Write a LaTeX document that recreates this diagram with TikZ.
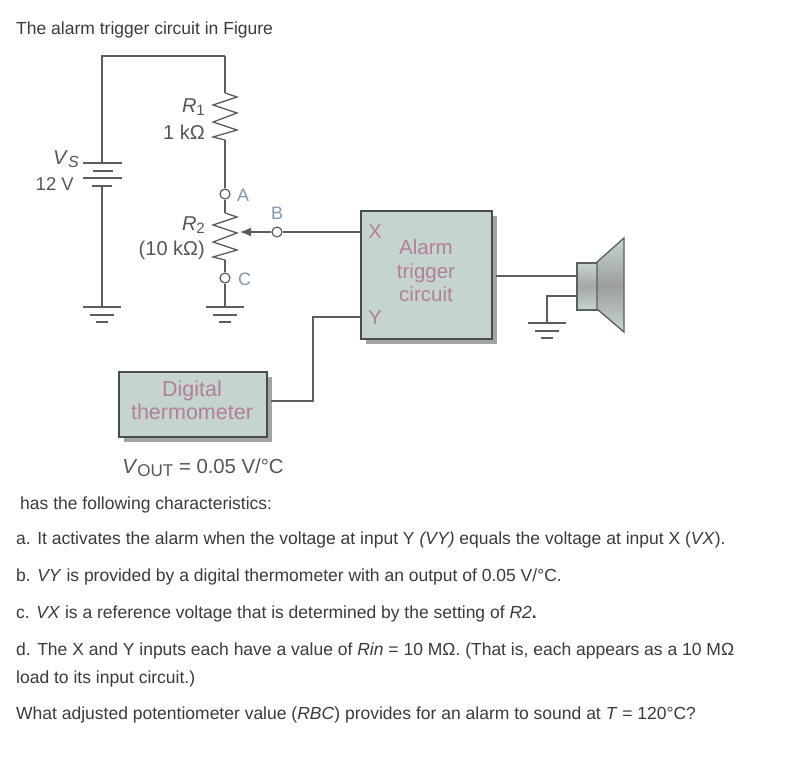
\documentclass[tikz,border=0pt]{standalone}
\usepackage{fontspec}
\setmainfont{Liberation Sans}
\usetikzlibrary{shadows,arrows.meta}
\definecolor{wirecol}{HTML}{5A5F5C}
\definecolor{boxcol}{HTML}{C6D4D1}
\definecolor{boxtext}{HTML}{B27F96}
\definecolor{labcol}{HTML}{555555}
\definecolor{bluelab}{HTML}{7F9AAE}
\definecolor{bodytext}{HTML}{3A3A3A}
\tikzset{
    x=1pt,y=-1pt,
    wire/.style={draw=wirecol,line width=1.3pt},
    terminal/.style={circle,draw=wirecol,line width=1.2pt,fill=white,inner sep=0pt,minimum size=10pt},
    block/.style={draw=wirecol!80!black,line width=1.5pt,fill=boxcol,inner sep=0pt,anchor=north west,
        drop shadow={shadow xshift=5pt,shadow yshift=-5pt,fill=wirecol!70!white,opacity=0.8}},
    blocktext/.style={text=boxtext,inner sep=0pt,align=center},
    lab/.style={text=labcol,inner sep=0pt,anchor=east,font=\fontsize{20}{20}\selectfont},
    port/.style={text=boxtext,inner sep=0pt,font=\fontsize{20}{20}\selectfont},
    abc/.style={text=bluelab,inner sep=0pt,font=\fontsize{18}{20}\selectfont},
    body/.style={text=bodytext,inner sep=0pt,anchor=base west,font=\fontsize{17.5}{20}\selectfont},
    gnd/.pic={
        \draw[wire] (-19,0) -- (19,0);
        \draw[wire] (-12,8) -- (12,8);
        \draw[wire] (-6,15) -- (6,15);
    },
    zigzag/.pic={
        \draw[wire] (0,0) -- (12,4) -- (-12,12) -- (12,20) -- (-12,29) -- (12,37) -- (-12,44) -- (0,47);
    },
}
\begin{document}
\begin{tikzpicture}
    \useasboundingbox (0,0) rectangle (786,756);
    %% question text
    \node[body] (intro) at (16,34) {The alarm trigger circuit in Figure};
    \node[body] (has) at (20,509) {has the following characteristics:};
    \node[body] (itema) at (16,544) {a. It activates the alarm when the voltage at input Y \textit{(VY)} equals the voltage at input X (\textit{VX}).};
    \node[body] (itemb) at (16,581) {b. \textit{VY} is provided by a digital thermometer with an output of 0.05 V/°C.};
    \node[body] (itemc) at (16,618) {c. \textit{VX} is a reference voltage that is determined by the setting of \textit{R2}\textbf{.}};
    \node[body] (itemd) at (16,655) {d. The X and Y inputs each have a value of \textit{Rin} = 10 MΩ. (That is, each appears as a 10 MΩ};
    \node[body] (iteme) at (16,683) {load to its input circuit.)};
    \node[body] (ask) at (16,719) {What adjusted potentiometer value (\textit{RBC}) provides for an alarm to sound at \textit{T} = 120°C?};
    %% battery loop
    \coordinate (topleft) at (102,56);
    \coordinate (topright) at (225,56);
    \coordinate (plus) at (102,163);
    \coordinate (minus) at (102,186);
    \coordinate (gndleft) at (102,307);
    \draw[wire] (plus) -- (topleft) -- (topright);
    \draw[wire] (minus) -- (gndleft);
    \draw[wire] (83,163) -- (122,163);
    \draw[wire] (93,171) -- (113,171);
    \draw[wire] (83,178) -- (122,178);
    \draw[wire] (92,186) -- (112,186);
    \pic at (gndleft) {gnd};
    \node[lab] (vs) at (79,159) {\textit{V}\raisebox{-3pt}{\fontsize{16}{16}\selectfont\textit{S}}};
    \node[lab,font=\fontsize{18.5}{20}\selectfont] (vsval) at (74,184) {12 V};
    %% divider
    \coordinate (rtop) at (225,93);
    \coordinate (rbot) at (225,140);
    \coordinate (ptop) at (225,213);
    \coordinate (pbot) at (225,260);
    \coordinate (gndright) at (225,307);
    \node[terminal] (A) at (225,194) {};
    \node[terminal] (C) at (225,278) {};
    \node[terminal] (B) at (277,232) {};
    \draw[wire] (topright) -- (rtop);
    \pic at (rtop) {zigzag};
    \draw[wire] (rbot) -- (A) -- (ptop);
    \pic at (ptop) {zigzag};
    \draw[wire] (pbot) -- (C) -- (gndright);
    \pic at (gndright) {gnd};
    \node[lab] (rone) at (205,107) {\textit{R}\raisebox{-3pt}{\fontsize{15}{15}\selectfont 1}};
    \node[lab] (roneval) at (205,132) {1 kΩ};
    \node[lab] (rtwo) at (205,225) {\textit{R}\raisebox{-3pt}{\fontsize{15}{15}\selectfont 2}};
    \node[lab] (rtwoval) at (205,250) {(10 kΩ)};
    \node[abc,anchor=west] (labA) at (237,195) {A};
    \node[abc] (labB) at (277,213) {B};
    \node[abc,anchor=west] (labC) at (238,279) {C};
    %% alarm block
    \node[block,minimum width=131pt,minimum height=128pt] (alarm) at (360,210) {};
    \node[blocktext,font=\fontsize{20.5}{23.5}\selectfont] (alarmtext) at (426,271) {Alarm\\trigger\\circuit};
    \node[port] (X) at (375,232) {X};
    \node[port] (Y) at (375,318) {Y};
    \coordinate (Xin) at (360,232);
    \coordinate (Yin) at (360,317);
    \coordinate (arrowtip) at (240,232);
    \draw[wire] (B) -- (Xin);
    \draw[wire,-{Latex[length=11pt,width=9pt]}] (B) -- (arrowtip);
    %% thermometer
    \node[block,minimum width=148pt,minimum height=65pt] (thermo) at (118,371) {};
    \node[blocktext,font=\fontsize{21.5}{23}\selectfont] (thermotext) at (192,400) {Digital\\thermometer};
    \coordinate (thermoout) at (271,401);
    \coordinate (bend) at (313,401);
    \coordinate (bendtop) at (313,317);
    \draw[wire] (thermoout) -- (bend) -- (bendtop) -- (Yin);
    \node[lab,anchor=center,font=\fontsize{20.3}{20}\selectfont] (vout) at (203,468) {\textit{V}\raisebox{-3pt}{\fontsize{17}{17}\selectfont OUT} = 0.05 V/°C};
    %% speaker
    \node[draw=wirecol,line width=1.5pt,top color=boxcol,bottom color=boxcol,middle color=wirecol!55!white,anchor=north west,minimum width=21pt,minimum height=47pt,inner sep=0pt] (coil) at (576,262) {};
    \draw[wire,top color=boxcol,bottom color=boxcol,middle color=wirecol!60!white] (597,262) -- (624,238) -- (624,332) -- (597,309) -- cycle;
    \coordinate (alarmout) at (496,276);
    \coordinate (spkin) at (576,276);
    \coordinate (spkgnd) at (576,296);
    \coordinate (spkbend) at (547,296);
    \coordinate (gndspk) at (547,323);
    \draw[wire] (alarmout) -- (spkin);
    \draw[wire] (spkgnd) -- (spkbend) -- (gndspk);
    \pic at (gndspk) {gnd};
\end{tikzpicture}
\end{document}
